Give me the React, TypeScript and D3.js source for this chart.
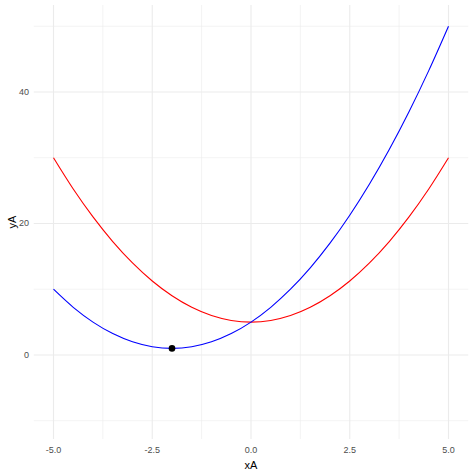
import React from "react";
import * as d3 from "d3";

const xValues = [-5, -4.5, -4, -3.5, -3, -2.5, -2, -1.5, -1, -0.5, 0, 0.5, 1, 1.5, 2, 2.5, 3, 3.5, 4, 4.5, 5];
const redValues = [30, 25.25, 21, 17.25, 14, 11.25, 9, 7.25, 6, 5.25, 5, 5.25, 6, 7.25, 9, 11.25, 14, 17.25, 21, 25.25, 30];
const blueValues = [10, 7.25, 5, 3.25, 2, 1.25, 1, 1.25, 2, 3.25, 5, 7.25, 10, 13.25, 17, 21.25, 26, 31.25, 37, 43.25, 50];
const pointX = [-2];
const pointY = [1];
const xTicks = [-5, -2.5, 0, 2.5, 5];
const xTickLabels = ["-5.0", "-2.5", "0.0", "2.5", "5.0"];
const xMinor = [-3.75, -1.25, 1.25, 3.75];
const yTicks = [0, 20, 40];
const yMinor = [-10, 10, 30, 50];

export default function App() {
  const W = 474, H = 474;
  const left = 33.75, right = 468.25, top = 5, bottom = 439;
  const x = d3.scaleLinear().domain([-5.5, 5.5]).range([left, right]);
  const y = d3.scaleLinear().domain([-12.78, 53.23]).range([bottom, top]);
  const line = d3.line<number>().x((_, i) => x(xValues[i])).y((d) => y(d)).curve(d3.curveCatmullRom);
  const font = "Liberation Sans, Arial, sans-serif";
  return (
    <svg width={W} height={H} style={{ position: "absolute", left: 0, top: 0, background: "#fff" }}>
      {xMinor.map((v) => (
        <line key={"xm" + v} x1={x(v)} x2={x(v)} y1={top} y2={bottom} stroke="#EBEBEB" strokeWidth={0.6} />
      ))}
      {yMinor.map((v) => (
        <line key={"ym" + v} x1={left} x2={right} y1={y(v)} y2={y(v)} stroke="#EBEBEB" strokeWidth={0.6} />
      ))}
      {xTicks.map((v) => (
        <line key={"xM" + v} x1={x(v)} x2={x(v)} y1={top} y2={bottom} stroke="#EBEBEB" strokeWidth={1.1} />
      ))}
      {yTicks.map((v) => (
        <line key={"yM" + v} x1={left} x2={right} y1={y(v)} y2={y(v)} stroke="#EBEBEB" strokeWidth={1.1} />
      ))}
      <path d={line(redValues) || ""} fill="none" stroke="red" strokeWidth={1.1} />
      <path d={line(blueValues) || ""} fill="none" stroke="blue" strokeWidth={1.1} />
      {pointX.map((v, i) => (
        <circle key={"p" + i} cx={x(v)} cy={y(pointY[i])} r={3.3} fill="black" />
      ))}
      {xTicks.map((v, i) => (
        <text key={"xt" + v} x={x(v)} y={450} fontSize={9} fill="#4D4D4D" textAnchor="middle" dominantBaseline="central" fontFamily={font}>
          {xTickLabels[i]}
        </text>
      ))}
      {yTicks.map((v) => (
        <text key={"yt" + v} x={29} y={y(v)} fontSize={9} fill="#4D4D4D" textAnchor="end" dominantBaseline="central" fontFamily={font}>
          {v}
        </text>
      ))}
      <text x={(left + right) / 2} y={465} fontSize={11} fill="#000" textAnchor="middle" dominantBaseline="central" fontFamily={font}>
        xA
      </text>
      <text x={12} y={(top + bottom) / 2} fontSize={11} fill="#000" textAnchor="middle" dominantBaseline="central" fontFamily={font} transform={`rotate(-90, 12, ${(top + bottom) / 2})`}>
        yA
      </text>
    </svg>
  );
}
